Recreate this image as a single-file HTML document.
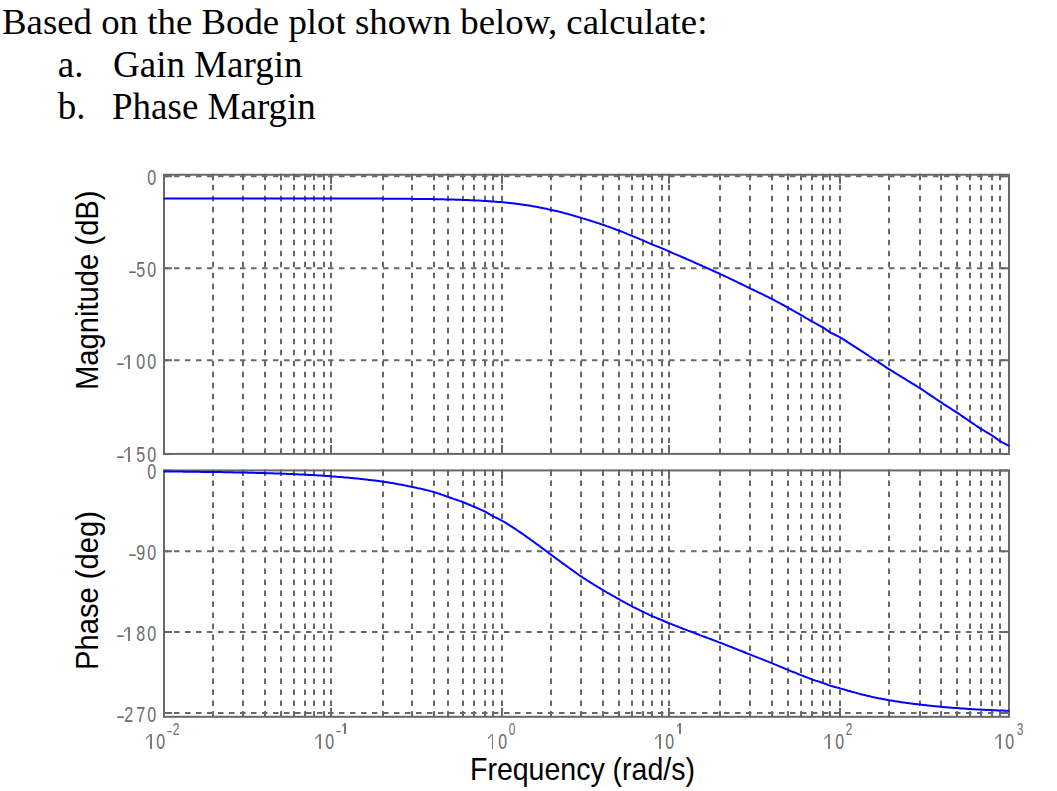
<!DOCTYPE html>
<html><head><meta charset="utf-8"><style>
html,body{margin:0;padding:0;background:#fff;width:1057px;height:791px;overflow:hidden;position:relative}
.t{position:absolute;font-family:"Liberation Serif",serif;font-size:37px;color:#000;white-space:nowrap;line-height:1}
.yl{position:absolute;right:899.5px;font-family:"Liberation Sans",sans-serif;font-size:20.6px;line-height:20.6px;color:#6b6b6b;white-space:nowrap;text-align:right}
.yl span,.xl span{display:inline-block;transform:scale(.78,1.07)}
.xs span{display:inline-block;transform:scale(.8,1.1)}
.yl span.h{transform:translate(1px,1.1px) scaleX(1.3)}
span.one{position:relative;color:transparent;transform:none!important}
span.one::before,span.one::after{content:"";position:absolute;background:#7d7d7d}
.xl span.one::before{left:6.2px;width:1.6px;top:1.7px;height:14.6px}
.xl span.one::after{left:2.1px;width:4.1px;top:1.7px;height:5.6px;clip-path:polygon(100% 0,100% 32%,0 100%,0 68%)}
.yl span.one::before{left:4.95px;width:1.6px;top:2.9px;height:14.6px}
.yl span.one::after{left:0.85px;width:4.1px;top:2.9px;height:5.6px;clip-path:polygon(100% 0,100% 32%,0 100%,0 68%)}
.xs span.one::before{left:3.8px;width:1.7px;top:0.6px;height:10.9px}
.xs span.one::after{left:1.4px;width:2.5px;top:0.6px;height:4px;clip-path:polygon(100% 0,100% 40%,0 100%,0 60%)}
.xs span.h{transform:translateY(1px) scaleX(1.2)}
.xl{position:absolute;font-family:"Liberation Sans",sans-serif;font-size:20.4px;line-height:20.4px;color:#6b6b6b;white-space:nowrap}
.xs{position:absolute;font-family:"Liberation Sans",sans-serif;font-size:14.9px;line-height:14.9px;color:#6b6b6b;white-space:nowrap}
.lab{position:absolute;font-family:"Liberation Sans",sans-serif;color:#000;white-space:nowrap;line-height:1}
</style></head><body>
<div class="t" style="left:2px;top:3.7px;font-size:36.85px">Based on the Bode plot shown below, calculate:</div>
<div class="t" style="left:57.8px;top:45.7px">a.</div>
<div class="t" style="left:113px;top:45.5px">Gain Margin</div>
<div class="t" style="left:57.8px;top:87.7px">b.</div>
<div class="t" style="left:112px;top:87.7px">Phase Margin</div>
<svg width="1057" height="791" style="position:absolute;left:0;top:0">
<style>.g{stroke:#686868;stroke-width:2;stroke-dasharray:5.5 5.5;fill:none}</style>
<line x1="213" y1="173.75" x2="213" y2="453.9" class="g"/><line x1="213" y1="469.45" x2="213" y2="716.8" class="g"/><line x1="243" y1="173.75" x2="243" y2="453.9" class="g"/><line x1="243" y1="469.45" x2="243" y2="716.8" class="g"/><line x1="265" y1="173.75" x2="265" y2="453.9" class="g"/><line x1="265" y1="469.45" x2="265" y2="716.8" class="g"/><line x1="281" y1="173.75" x2="281" y2="453.9" class="g"/><line x1="281" y1="469.45" x2="281" y2="716.8" class="g"/><line x1="294" y1="173.75" x2="294" y2="453.9" class="g"/><line x1="294" y1="469.45" x2="294" y2="716.8" class="g"/><line x1="305" y1="173.75" x2="305" y2="453.9" class="g"/><line x1="305" y1="469.45" x2="305" y2="716.8" class="g"/><line x1="314" y1="173.75" x2="314" y2="453.9" class="g"/><line x1="314" y1="469.45" x2="314" y2="716.8" class="g"/><line x1="324" y1="173.75" x2="324" y2="453.9" class="g"/><line x1="324" y1="469.45" x2="324" y2="716.8" class="g"/><line x1="331" y1="173.75" x2="331" y2="453.9" class="g"/><line x1="331" y1="469.45" x2="331" y2="716.8" class="g"/><line x1="383" y1="173.75" x2="383" y2="453.9" class="g"/><line x1="383" y1="469.45" x2="383" y2="716.8" class="g"/><line x1="412" y1="173.75" x2="412" y2="453.9" class="g"/><line x1="412" y1="469.45" x2="412" y2="716.8" class="g"/><line x1="434" y1="173.75" x2="434" y2="453.9" class="g"/><line x1="434" y1="469.45" x2="434" y2="716.8" class="g"/><line x1="448" y1="173.75" x2="448" y2="453.9" class="g"/><line x1="448" y1="469.45" x2="448" y2="716.8" class="g"/><line x1="463" y1="173.75" x2="463" y2="453.9" class="g"/><line x1="463" y1="469.45" x2="463" y2="716.8" class="g"/><line x1="474" y1="173.75" x2="474" y2="453.9" class="g"/><line x1="474" y1="469.45" x2="474" y2="716.8" class="g"/><line x1="485" y1="173.75" x2="485" y2="453.9" class="g"/><line x1="485" y1="469.45" x2="485" y2="716.8" class="g"/><line x1="493" y1="173.75" x2="493" y2="453.9" class="g"/><line x1="493" y1="469.45" x2="493" y2="716.8" class="g"/><line x1="502" y1="173.75" x2="502" y2="453.9" class="g"/><line x1="502" y1="469.45" x2="502" y2="716.8" class="g"/><line x1="551" y1="173.75" x2="551" y2="453.9" class="g"/><line x1="551" y1="469.45" x2="551" y2="716.8" class="g"/><line x1="581" y1="173.75" x2="581" y2="453.9" class="g"/><line x1="581" y1="469.45" x2="581" y2="716.8" class="g"/><line x1="603" y1="173.75" x2="603" y2="453.9" class="g"/><line x1="603" y1="469.45" x2="603" y2="716.8" class="g"/><line x1="619" y1="173.75" x2="619" y2="453.9" class="g"/><line x1="619" y1="469.45" x2="619" y2="716.8" class="g"/><line x1="632" y1="173.75" x2="632" y2="453.9" class="g"/><line x1="632" y1="469.45" x2="632" y2="716.8" class="g"/><line x1="643" y1="173.75" x2="643" y2="453.9" class="g"/><line x1="643" y1="469.45" x2="643" y2="716.8" class="g"/><line x1="652" y1="173.75" x2="652" y2="453.9" class="g"/><line x1="652" y1="469.45" x2="652" y2="716.8" class="g"/><line x1="662" y1="173.75" x2="662" y2="453.9" class="g"/><line x1="662" y1="469.45" x2="662" y2="716.8" class="g"/><line x1="669" y1="173.75" x2="669" y2="453.9" class="g"/><line x1="669" y1="469.45" x2="669" y2="716.8" class="g"/><line x1="720" y1="173.75" x2="720" y2="453.9" class="g"/><line x1="720" y1="469.45" x2="720" y2="716.8" class="g"/><line x1="750" y1="173.75" x2="750" y2="453.9" class="g"/><line x1="750" y1="469.45" x2="750" y2="716.8" class="g"/><line x1="772" y1="173.75" x2="772" y2="453.9" class="g"/><line x1="772" y1="469.45" x2="772" y2="716.8" class="g"/><line x1="788" y1="173.75" x2="788" y2="453.9" class="g"/><line x1="788" y1="469.45" x2="788" y2="716.8" class="g"/><line x1="801" y1="173.75" x2="801" y2="453.9" class="g"/><line x1="801" y1="469.45" x2="801" y2="716.8" class="g"/><line x1="812" y1="173.75" x2="812" y2="453.9" class="g"/><line x1="812" y1="469.45" x2="812" y2="716.8" class="g"/><line x1="823" y1="173.75" x2="823" y2="453.9" class="g"/><line x1="823" y1="469.45" x2="823" y2="716.8" class="g"/><line x1="830" y1="173.75" x2="830" y2="453.9" class="g"/><line x1="830" y1="469.45" x2="830" y2="716.8" class="g"/><line x1="840" y1="173.75" x2="840" y2="453.9" class="g"/><line x1="840" y1="469.45" x2="840" y2="716.8" class="g"/><line x1="889" y1="173.75" x2="889" y2="453.9" class="g"/><line x1="889" y1="469.45" x2="889" y2="716.8" class="g"/><line x1="920" y1="173.75" x2="920" y2="453.9" class="g"/><line x1="920" y1="469.45" x2="920" y2="716.8" class="g"/><line x1="941" y1="173.75" x2="941" y2="453.9" class="g"/><line x1="941" y1="469.45" x2="941" y2="716.8" class="g"/><line x1="957" y1="173.75" x2="957" y2="453.9" class="g"/><line x1="957" y1="469.45" x2="957" y2="716.8" class="g"/><line x1="970" y1="173.75" x2="970" y2="453.9" class="g"/><line x1="970" y1="469.45" x2="970" y2="716.8" class="g"/><line x1="981" y1="173.75" x2="981" y2="453.9" class="g"/><line x1="981" y1="469.45" x2="981" y2="716.8" class="g"/><line x1="992" y1="173.75" x2="992" y2="453.9" class="g"/><line x1="992" y1="469.45" x2="992" y2="716.8" class="g"/><line x1="1000" y1="173.75" x2="1000" y2="453.9" class="g"/><line x1="1000" y1="469.45" x2="1000" y2="716.8" class="g"/><line x1="163" y1="176.3" x2="1009" y2="176.3" class="g"/><line x1="163" y1="268.3" x2="1009" y2="268.3" class="g"/><line x1="163" y1="360.2" x2="1009" y2="360.2" class="g"/><line x1="163" y1="551.3" x2="1009" y2="551.3" class="g"/><line x1="163" y1="632.1" x2="1009" y2="632.1" class="g"/><line x1="163" y1="713.0" x2="1009" y2="713.0" class="g"/>
<path d="M164 174.75v9M164 453.9v-9M164 470.45v9M164 716.8v-9M213 174.75v5.5M213 453.9v-5.5M213 470.45v5.5M213 716.8v-5.5M243 174.75v5.5M243 453.9v-5.5M243 470.45v5.5M243 716.8v-5.5M265 174.75v5.5M265 453.9v-5.5M265 470.45v5.5M265 716.8v-5.5M281 174.75v5.5M281 453.9v-5.5M281 470.45v5.5M281 716.8v-5.5M294 174.75v5.5M294 453.9v-5.5M294 470.45v5.5M294 716.8v-5.5M305 174.75v5.5M305 453.9v-5.5M305 470.45v5.5M305 716.8v-5.5M314 174.75v5.5M314 453.9v-5.5M314 470.45v5.5M314 716.8v-5.5M324 174.75v5.5M324 453.9v-5.5M324 470.45v5.5M324 716.8v-5.5M331 174.75v9M331 453.9v-9M331 470.45v9M331 716.8v-9M383 174.75v5.5M383 453.9v-5.5M383 470.45v5.5M383 716.8v-5.5M412 174.75v5.5M412 453.9v-5.5M412 470.45v5.5M412 716.8v-5.5M434 174.75v5.5M434 453.9v-5.5M434 470.45v5.5M434 716.8v-5.5M448 174.75v5.5M448 453.9v-5.5M448 470.45v5.5M448 716.8v-5.5M463 174.75v5.5M463 453.9v-5.5M463 470.45v5.5M463 716.8v-5.5M474 174.75v5.5M474 453.9v-5.5M474 470.45v5.5M474 716.8v-5.5M485 174.75v5.5M485 453.9v-5.5M485 470.45v5.5M485 716.8v-5.5M493 174.75v5.5M493 453.9v-5.5M493 470.45v5.5M493 716.8v-5.5M502 174.75v9M502 453.9v-9M502 470.45v9M502 716.8v-9M551 174.75v5.5M551 453.9v-5.5M551 470.45v5.5M551 716.8v-5.5M581 174.75v5.5M581 453.9v-5.5M581 470.45v5.5M581 716.8v-5.5M603 174.75v5.5M603 453.9v-5.5M603 470.45v5.5M603 716.8v-5.5M619 174.75v5.5M619 453.9v-5.5M619 470.45v5.5M619 716.8v-5.5M632 174.75v5.5M632 453.9v-5.5M632 470.45v5.5M632 716.8v-5.5M643 174.75v5.5M643 453.9v-5.5M643 470.45v5.5M643 716.8v-5.5M652 174.75v5.5M652 453.9v-5.5M652 470.45v5.5M652 716.8v-5.5M662 174.75v5.5M662 453.9v-5.5M662 470.45v5.5M662 716.8v-5.5M669 174.75v9M669 453.9v-9M669 470.45v9M669 716.8v-9M720 174.75v5.5M720 453.9v-5.5M720 470.45v5.5M720 716.8v-5.5M750 174.75v5.5M750 453.9v-5.5M750 470.45v5.5M750 716.8v-5.5M772 174.75v5.5M772 453.9v-5.5M772 470.45v5.5M772 716.8v-5.5M788 174.75v5.5M788 453.9v-5.5M788 470.45v5.5M788 716.8v-5.5M801 174.75v5.5M801 453.9v-5.5M801 470.45v5.5M801 716.8v-5.5M812 174.75v5.5M812 453.9v-5.5M812 470.45v5.5M812 716.8v-5.5M823 174.75v5.5M823 453.9v-5.5M823 470.45v5.5M823 716.8v-5.5M830 174.75v5.5M830 453.9v-5.5M830 470.45v5.5M830 716.8v-5.5M840 174.75v9M840 453.9v-9M840 470.45v9M840 716.8v-9M889 174.75v5.5M889 453.9v-5.5M889 470.45v5.5M889 716.8v-5.5M920 174.75v5.5M920 453.9v-5.5M920 470.45v5.5M920 716.8v-5.5M941 174.75v5.5M941 453.9v-5.5M941 470.45v5.5M941 716.8v-5.5M957 174.75v5.5M957 453.9v-5.5M957 470.45v5.5M957 716.8v-5.5M970 174.75v5.5M970 453.9v-5.5M970 470.45v5.5M970 716.8v-5.5M981 174.75v5.5M981 453.9v-5.5M981 470.45v5.5M981 716.8v-5.5M992 174.75v5.5M992 453.9v-5.5M992 470.45v5.5M992 716.8v-5.5M1000 174.75v5.5M1000 453.9v-5.5M1000 470.45v5.5M1000 716.8v-5.5M1009 174.75v9M1009 453.9v-9M1009 470.45v9M1009 716.8v-9M164 176.3h8M1009 176.3h-8M164 268.3h8M1009 268.3h-8M164 360.2h8M1009 360.2h-8M164 453.9h8M1009 453.9h-8M164 470.4h8M1009 470.4h-8M164 551.3h8M1009 551.3h-8M164 632.1h8M1009 632.1h-8M164 713.0h8M1009 713.0h-8" stroke="#686868" stroke-width="2" fill="none"/>
<rect x="164" y="174.75" width="845" height="279.15" fill="none" stroke="#686868" stroke-width="2"/>
<rect x="164" y="470.45" width="845" height="246.35" fill="none" stroke="#686868" stroke-width="2"/>
<polyline points="163.7,198.5 164.9,198.5 166.1,198.5 167.2,198.5 168.4,198.5 169.6,198.5 170.8,198.5 172.0,198.5 173.1,198.5 174.3,198.5 175.5,198.5 176.7,198.5 177.8,198.5 179.0,198.5 180.2,198.5 181.4,198.5 182.6,198.5 183.7,198.5 184.9,198.5 186.1,198.5 187.3,198.5 188.5,198.5 189.6,198.5 190.8,198.5 192.0,198.5 193.2,198.5 194.3,198.5 195.5,198.5 196.7,198.5 197.9,198.5 199.1,198.5 200.2,198.5 201.4,198.5 202.6,198.5 203.8,198.5 205.0,198.5 206.1,198.5 207.3,198.5 208.5,198.5 209.7,198.5 210.8,198.5 212.0,198.5 213.2,198.5 214.4,198.5 215.6,198.5 216.8,198.5 218.0,198.5 219.2,198.5 220.4,198.5 221.6,198.5 222.8,198.5 224.0,198.5 225.2,198.5 226.4,198.5 227.6,198.5 228.8,198.5 230.0,198.5 231.2,198.5 232.4,198.5 233.6,198.5 234.8,198.5 236.0,198.5 237.2,198.5 238.4,198.5 239.7,198.5 240.9,198.5 242.1,198.5 243.3,198.5 244.5,198.5 245.8,198.5 247.0,198.5 248.2,198.5 249.5,198.5 250.7,198.5 252.0,198.5 253.2,198.5 254.5,198.5 255.7,198.5 256.9,198.5 258.2,198.5 259.4,198.5 260.7,198.5 261.9,198.5 263.1,198.5 264.4,198.5 265.6,198.5 266.9,198.5 268.1,198.5 269.3,198.5 270.6,198.5 271.8,198.5 273.0,198.5 274.3,198.5 275.5,198.5 276.7,198.5 278.0,198.5 279.2,198.5 280.4,198.5 281.6,198.5 282.8,198.5 284.0,198.5 285.1,198.5 286.3,198.5 287.5,198.5 288.6,198.5 289.8,198.5 291.0,198.5 292.1,198.5 293.3,198.5 294.4,198.5 295.6,198.5 296.8,198.5 297.9,198.5 299.1,198.5 300.3,198.5 301.4,198.5 302.6,198.5 303.8,198.5 304.9,198.5 306.1,198.5 307.3,198.5 308.4,198.5 309.6,198.5 310.7,198.5 311.9,198.5 313.0,198.5 314.2,198.5 315.4,198.5 316.7,198.5 318.0,198.5 319.2,198.5 320.5,198.5 321.7,198.5 323.0,198.5 324.2,198.5 325.4,198.5 326.5,198.5 327.7,198.5 328.9,198.5 330.1,198.5 331.2,198.5 332.5,198.5 333.7,198.5 334.9,198.5 336.1,198.5 337.4,198.5 338.6,198.5 339.8,198.5 341.1,198.5 342.3,198.5 343.5,198.5 344.7,198.5 346.0,198.5 347.2,198.5 348.4,198.5 349.6,198.5 350.9,198.6 352.1,198.6 353.3,198.6 354.5,198.6 355.8,198.6 357.0,198.6 358.2,198.6 359.4,198.6 360.7,198.6 361.9,198.6 363.1,198.6 364.4,198.6 365.6,198.6 366.8,198.6 368.0,198.6 369.3,198.6 370.5,198.6 371.7,198.6 372.9,198.6 374.2,198.6 375.4,198.6 376.6,198.6 377.8,198.6 379.1,198.6 380.3,198.6 381.5,198.6 382.7,198.6 383.9,198.7 385.1,198.7 386.3,198.7 387.5,198.7 388.7,198.7 389.9,198.7 391.1,198.7 392.3,198.7 393.4,198.7 394.6,198.7 395.8,198.7 397.0,198.7 398.2,198.7 399.4,198.7 400.6,198.8 401.8,198.8 403.0,198.8 404.2,198.8 405.4,198.8 406.5,198.8 407.7,198.8 408.9,198.8 410.1,198.8 411.3,198.8 412.5,198.9 413.8,198.9 415.1,198.9 416.3,198.9 417.6,198.9 418.9,198.9 420.1,198.9 421.4,199.0 422.7,199.0 423.9,199.0 425.2,199.0 426.4,199.0 427.7,199.0 429.0,199.1 430.2,199.1 431.5,199.1 432.8,199.1 434.0,199.1 435.1,199.2 436.2,199.2 437.2,199.2 438.3,199.2 439.4,199.2 440.5,199.3 441.5,199.3 442.6,199.3 443.7,199.3 444.7,199.4 445.8,199.4 446.9,199.4 447.9,199.5 449.1,199.5 450.4,199.5 451.7,199.6 453.0,199.6 454.3,199.6 455.6,199.7 456.9,199.7 458.2,199.8 459.5,199.8 460.8,199.8 462.1,199.9 463.4,199.9 464.6,200.0 465.9,200.0 467.1,200.1 468.3,200.1 469.6,200.2 470.8,200.2 472.0,200.3 473.2,200.3 474.5,200.4 475.8,200.5 477.1,200.5 478.4,200.6 479.8,200.6 481.1,200.7 482.4,200.8 483.7,200.9 485.0,200.9 486.1,201.0 487.2,201.1 488.2,201.2 489.3,201.2 490.4,201.3 491.4,201.4 492.5,201.5 493.8,201.6 495.3,201.7 496.7,201.8 498.1,201.9 499.5,202.0 500.9,202.1 502.3,202.2 503.4,202.3 504.6,202.4 505.8,202.6 507.0,202.7 508.1,202.8 509.3,202.9 510.5,203.0 511.7,203.2 512.8,203.3 514.0,203.5 515.2,203.6 516.4,203.7 517.5,203.9 518.7,204.0 519.9,204.2 521.1,204.4 522.2,204.5 523.4,204.7 524.6,204.9 525.7,205.0 526.9,205.2 528.1,205.4 529.3,205.6 530.4,205.8 531.6,206.0 532.8,206.2 534.0,206.4 535.1,206.6 536.3,206.8 537.5,207.0 538.7,207.2 539.8,207.5 541.0,207.7 542.2,207.9 543.4,208.2 544.5,208.4 545.7,208.6 546.9,208.9 548.0,209.2 549.2,209.4 550.4,209.7 551.6,209.9 552.8,210.2 554.0,210.5 555.2,210.8 556.4,211.1 557.6,211.3 558.8,211.6 560.0,211.9 561.2,212.2 562.4,212.5 563.6,212.9 564.8,213.2 566.0,213.5 567.2,213.8 568.4,214.1 569.6,214.5 570.8,214.8 572.0,215.1 573.1,215.5 574.3,215.8 575.5,216.2 576.7,216.5 577.9,216.9 579.1,217.3 580.3,217.6 581.6,218.0 582.8,218.4 584.1,218.7 585.4,219.1 586.6,219.5 587.9,219.9 589.2,220.3 590.4,220.7 591.7,221.1 593.0,221.5 594.2,221.9 595.5,222.3 596.8,222.7 598.0,223.1 599.3,223.5 600.6,224.0 601.8,224.4 603.1,224.8 604.3,225.2 605.5,225.7 606.7,226.1 608.0,226.5 609.2,227.0 610.4,227.4 611.6,227.9 612.8,228.3 614.0,228.7 615.3,229.2 616.5,229.7 617.7,230.1 618.9,230.6 620.1,231.0 621.2,231.5 622.4,231.9 623.6,232.4 624.7,232.9 625.9,233.3 627.0,233.8 628.2,234.3 629.3,234.8 630.5,235.2 631.7,235.7 632.8,236.2 634.0,236.7 635.2,237.2 636.4,237.6 637.6,238.1 638.8,238.6 639.9,239.1 641.1,239.6 642.3,240.1 643.5,240.6 644.6,241.1 645.8,241.6 646.9,242.1 648.1,242.6 649.2,243.1 650.4,243.6 651.5,244.1 652.7,244.6 654.0,245.1 655.2,245.6 656.5,246.1 657.8,246.6 659.1,247.1 660.3,247.6 661.6,248.1 662.8,248.6 663.9,249.1 665.1,249.7 666.2,250.2 667.4,250.7 668.5,251.2 669.7,251.7 671.0,252.2 672.2,252.8 673.4,253.3 674.6,253.8 675.8,254.3 677.0,254.9 678.3,255.4 679.5,255.9 680.7,256.4 681.9,257.0 683.1,257.5 684.4,258.0 685.6,258.5 686.8,259.1 688.0,259.6 689.2,260.1 690.5,260.7 691.7,261.2 692.9,261.7 694.1,262.3 695.3,262.8 696.5,263.3 697.8,263.9 699.0,264.4 700.2,265.0 701.4,265.5 702.6,266.1 703.9,266.6 705.1,267.1 706.3,267.7 707.5,268.2 708.7,268.8 710.0,269.3 711.2,269.9 712.4,270.4 713.6,271.0 714.8,271.5 716.1,272.1 717.3,272.7 718.5,273.2 719.7,273.8 720.9,274.3 722.1,274.9 723.3,275.4 724.5,276.0 725.7,276.6 726.9,277.1 728.1,277.7 729.3,278.3 730.5,278.9 731.7,279.4 732.9,280.0 734.1,280.6 735.3,281.1 736.5,281.7 737.7,282.3 738.9,282.9 740.1,283.5 741.3,284.0 742.5,284.6 743.7,285.2 744.9,285.8 746.1,286.4 747.3,287.0 748.5,287.6 749.7,288.2 750.9,288.8 752.2,289.4 753.5,290.0 754.7,290.6 756.0,291.2 757.3,291.8 758.5,292.4 759.8,293.0 761.1,293.6 762.3,294.2 763.6,294.9 764.9,295.5 766.1,296.1 767.4,296.7 768.7,297.4 769.9,298.0 771.2,298.6 772.4,299.2 773.6,299.9 774.8,300.5 776.0,301.2 777.2,301.8 778.4,302.4 779.6,303.1 780.8,303.7 782.0,304.4 783.2,305.0 784.4,305.7 785.6,306.3 786.8,307.0 788.0,307.7 789.1,308.3 790.3,309.0 791.5,309.6 792.7,310.3 793.9,311.0 795.1,311.7 796.2,312.3 797.4,313.0 798.6,313.7 799.8,314.4 801.0,315.1 802.2,315.7 803.4,316.4 804.5,317.1 805.7,317.8 806.9,318.5 808.1,319.2 809.3,319.9 810.5,320.6 811.7,321.3 812.9,322.0 814.2,322.7 815.5,323.4 816.9,324.1 818.2,324.8 819.5,325.5 820.8,326.3 822.1,327.0 823.4,327.7 824.4,328.4 825.5,329.1 826.5,329.9 827.6,330.6 828.6,331.3 829.7,332.0 830.8,332.8 832.3,333.5 833.8,334.2 835.3,335.0 836.8,335.7 838.3,336.4 839.8,337.2 841.0,337.9 842.2,338.7 843.4,339.4 844.5,340.1 845.7,340.9 846.9,341.6 848.0,342.4 849.2,343.1 850.4,343.9 851.5,344.6 852.7,345.4 853.9,346.1 855.0,346.9 856.2,347.6 857.4,348.4 858.5,349.2 859.7,349.9 860.9,350.7 862.0,351.4 863.2,352.2 864.4,353.0 865.5,353.7 866.7,354.5 867.9,355.2 869.0,356.0 870.2,356.8 871.4,357.5 872.5,358.3 873.7,359.1 874.9,359.8 876.0,360.6 877.2,361.4 878.4,362.1 879.5,362.9 880.7,363.7 881.9,364.5 883.0,365.2 884.2,366.0 885.4,366.8 886.5,367.6 887.7,368.3 888.9,369.1 890.1,369.9 891.4,370.7 892.7,371.4 893.9,372.2 895.2,373.0 896.5,373.8 897.7,374.5 899.0,375.3 900.3,376.1 901.6,376.9 902.8,377.6 904.1,378.4 905.4,379.2 906.6,380.0 907.9,380.8 909.2,381.5 910.5,382.3 911.7,383.1 913.0,383.9 914.3,384.7 915.5,385.5 916.8,386.2 918.1,387.0 919.4,387.8 920.6,388.6 921.8,389.4 922.9,390.1 924.1,390.9 925.3,391.7 926.4,392.5 927.6,393.3 928.8,394.1 929.9,394.8 931.1,395.6 932.2,396.4 933.4,397.2 934.6,398.0 935.7,398.8 936.9,399.6 938.0,400.3 939.2,401.1 940.4,401.9 941.6,402.7 942.8,403.5 944.0,404.3 945.3,405.1 946.5,405.8 947.7,406.6 948.9,407.4 950.2,408.2 951.4,409.0 952.6,409.8 953.8,410.6 955.1,411.3 956.3,412.1 957.5,412.9 958.6,413.7 959.8,414.5 960.9,415.3 962.1,416.1 963.2,416.9 964.4,417.6 965.5,418.4 966.7,419.2 967.8,420.0 969.0,420.8 970.1,421.6 971.3,422.4 972.4,423.2 973.6,423.9 974.8,424.7 975.9,425.5 977.1,426.3 978.3,427.1 979.4,427.9 980.6,428.7 981.9,429.5 983.2,430.2 984.6,431.0 985.9,431.8 987.3,432.6 988.6,433.4 989.9,434.2 991.3,435.0 992.5,435.8 993.6,436.6 994.7,437.3 995.8,438.1 996.9,438.9 998.0,439.7 999.1,440.5 1000.4,441.3 1001.8,442.1 1003.2,442.9 1004.7,443.7 1006.1,444.4 1007.6,445.2 1009.0,446.0" fill="none" stroke="#0000ff" stroke-width="2"/>
<polyline points="163.7,471.5 164.9,471.5 166.1,471.5 167.2,471.5 168.4,471.5 169.6,471.5 170.8,471.5 172.0,471.5 173.1,471.6 174.3,471.6 175.5,471.6 176.7,471.6 177.8,471.6 179.0,471.6 180.2,471.6 181.4,471.6 182.6,471.6 183.7,471.7 184.9,471.7 186.1,471.7 187.3,471.7 188.5,471.7 189.6,471.7 190.8,471.7 192.0,471.7 193.2,471.8 194.3,471.8 195.5,471.8 196.7,471.8 197.9,471.8 199.1,471.8 200.2,471.8 201.4,471.9 202.6,471.9 203.8,471.9 205.0,471.9 206.1,471.9 207.3,471.9 208.5,471.9 209.7,472.0 210.8,472.0 212.0,472.0 213.2,472.0 214.4,472.0 215.6,472.1 216.8,472.1 218.0,472.1 219.2,472.1 220.4,472.1 221.6,472.1 222.8,472.2 224.0,472.2 225.2,472.2 226.4,472.2 227.6,472.3 228.8,472.3 230.0,472.3 231.2,472.3 232.4,472.3 233.6,472.4 234.8,472.4 236.0,472.4 237.2,472.4 238.4,472.5 239.7,472.5 240.9,472.5 242.1,472.5 243.3,472.6 244.5,472.6 245.8,472.6 247.0,472.6 248.2,472.7 249.5,472.7 250.7,472.7 252.0,472.8 253.2,472.8 254.5,472.8 255.7,472.9 256.9,472.9 258.2,472.9 259.4,472.9 260.7,473.0 261.9,473.0 263.1,473.0 264.4,473.1 265.6,473.1 266.9,473.2 268.1,473.2 269.3,473.2 270.6,473.3 271.8,473.3 273.0,473.3 274.3,473.4 275.5,473.4 276.7,473.5 278.0,473.5 279.2,473.5 280.4,473.6 281.6,473.6 282.8,473.7 284.0,473.7 285.1,473.8 286.3,473.8 287.5,473.9 288.6,473.9 289.8,474.0 291.0,474.0 292.1,474.1 293.3,474.1 294.4,474.2 295.6,474.2 296.8,474.3 297.9,474.3 299.1,474.4 300.3,474.4 301.4,474.5 302.6,474.6 303.8,474.6 304.9,474.7 306.1,474.7 307.3,474.8 308.4,474.9 309.6,474.9 310.7,475.0 311.9,475.1 313.0,475.1 314.2,475.2 315.4,475.3 316.7,475.3 318.0,475.4 319.2,475.5 320.5,475.6 321.7,475.6 323.0,475.7 324.2,475.8 325.4,475.9 326.5,476.0 327.7,476.1 328.9,476.1 330.1,476.2 331.2,476.3 332.5,476.4 333.7,476.5 334.9,476.6 336.1,476.7 337.4,476.8 338.6,476.9 339.8,477.0 341.1,477.1 342.3,477.2 343.5,477.3 344.7,477.4 346.0,477.5 347.2,477.6 348.4,477.7 349.6,477.8 350.9,477.9 352.1,478.0 353.3,478.2 354.5,478.3 355.8,478.4 357.0,478.5 358.2,478.6 359.4,478.8 360.7,478.9 361.9,479.0 363.1,479.2 364.4,479.3 365.6,479.4 366.8,479.6 368.0,479.7 369.3,479.9 370.5,480.0 371.7,480.2 372.9,480.3 374.2,480.5 375.4,480.6 376.6,480.8 377.8,481.0 379.1,481.1 380.3,481.3 381.5,481.5 382.7,481.6 383.9,481.8 385.1,482.0 386.3,482.2 387.5,482.3 388.7,482.5 389.9,482.7 391.1,482.9 392.3,483.1 393.4,483.3 394.6,483.5 395.8,483.7 397.0,483.9 398.2,484.2 399.4,484.4 400.6,484.6 401.8,484.8 403.0,485.0 404.2,485.3 405.4,485.5 406.5,485.7 407.7,486.0 408.9,486.2 410.1,486.5 411.3,486.7 412.5,487.0 413.8,487.3 415.1,487.5 416.3,487.8 417.6,488.1 418.9,488.4 420.1,488.6 421.4,488.9 422.7,489.2 423.9,489.5 425.2,489.8 426.4,490.1 427.7,490.4 429.0,490.7 430.2,491.1 431.5,491.4 432.8,491.7 434.0,492.1 435.1,492.4 436.2,492.8 437.2,493.1 438.3,493.5 439.4,493.8 440.5,494.2 441.5,494.6 442.6,494.9 443.7,495.3 444.7,495.7 445.8,496.1 446.9,496.5 447.9,496.9 449.1,497.3 450.4,497.8 451.7,498.2 453.0,498.6 454.3,499.1 455.6,499.5 456.9,500.0 458.2,500.4 459.5,500.9 460.8,501.3 462.1,501.8 463.4,502.3 464.6,502.8 465.9,503.3 467.1,503.8 468.3,504.3 469.6,504.8 470.8,505.3 472.0,505.9 473.2,506.4 474.5,507.0 475.8,507.5 477.1,508.1 478.4,508.6 479.8,509.2 481.1,509.8 482.4,510.4 483.7,511.0 485.0,511.6 486.1,512.2 487.2,512.8 488.2,513.4 489.3,514.1 490.4,514.7 491.4,515.3 492.5,516.0 493.8,516.7 495.3,517.3 496.7,518.0 498.1,518.7 499.5,519.4 500.9,520.1 502.3,520.8 503.4,521.5 504.6,522.2 505.8,522.9 507.0,523.6 508.1,524.4 509.3,525.1 510.5,525.9 511.7,526.6 512.8,527.4 514.0,528.2 515.2,528.9 516.4,529.7 517.5,530.5 518.7,531.3 519.9,532.1 521.1,532.9 522.2,533.7 523.4,534.5 524.6,535.3 525.7,536.2 526.9,537.0 528.1,537.8 529.3,538.6 530.4,539.5 531.6,540.3 532.8,541.2 534.0,542.0 535.1,542.9 536.3,543.8 537.5,544.6 538.7,545.5 539.8,546.3 541.0,547.2 542.2,548.1 543.4,549.0 544.5,549.8 545.7,550.7 546.9,551.6 548.0,552.5 549.2,553.4 550.4,554.2 551.6,555.1 552.8,556.0 554.0,556.9 555.2,557.8 556.4,558.7 557.6,559.5 558.8,560.4 560.0,561.3 561.2,562.2 562.4,563.1 563.6,563.9 564.8,564.8 566.0,565.7 567.2,566.5 568.4,567.4 569.6,568.3 570.8,569.1 572.0,570.0 573.1,570.8 574.3,571.7 575.5,572.5 576.7,573.4 577.9,574.2 579.1,575.1 580.3,575.9 581.6,576.7 582.8,577.6 584.1,578.4 585.4,579.2 586.6,580.0 587.9,580.8 589.2,581.6 590.4,582.4 591.7,583.2 593.0,584.0 594.2,584.8 595.5,585.5 596.8,586.3 598.0,587.1 599.3,587.8 600.6,588.6 601.8,589.3 603.1,590.1 604.3,590.8 605.5,591.5 606.7,592.3 608.0,593.0 609.2,593.7 610.4,594.4 611.6,595.1 612.8,595.8 614.0,596.5 615.3,597.2 616.5,597.9 617.7,598.5 618.9,599.2 620.1,599.9 621.2,600.5 622.4,601.2 623.6,601.8 624.7,602.5 625.9,603.1 627.0,603.7 628.2,604.3 629.3,605.0 630.5,605.6 631.7,606.2 632.8,606.8 634.0,607.4 635.2,608.0 636.4,608.6 637.6,609.2 638.8,609.7 639.9,610.3 641.1,610.9 642.3,611.5 643.5,612.0 644.6,612.6 645.8,613.1 646.9,613.7 648.1,614.2 649.2,614.8 650.4,615.3 651.5,615.8 652.7,616.4 654.0,616.9 655.2,617.4 656.5,617.9 657.8,618.5 659.1,619.0 660.3,619.5 661.6,620.0 662.8,620.5 663.9,621.0 665.1,621.5 666.2,622.0 667.4,622.5 668.5,623.0 669.7,623.5 671.0,623.9 672.2,624.4 673.4,624.9 674.6,625.4 675.8,625.9 677.0,626.3 678.3,626.8 679.5,627.3 680.7,627.8 681.9,628.2 683.1,628.7 684.4,629.2 685.6,629.6 686.8,630.1 688.0,630.6 689.2,631.0 690.5,631.5 691.7,631.9 692.9,632.4 694.1,632.9 695.3,633.3 696.5,633.8 697.8,634.2 699.0,634.7 700.2,635.2 701.4,635.6 702.6,636.1 703.9,636.5 705.1,637.0 706.3,637.5 707.5,637.9 708.7,638.4 710.0,638.8 711.2,639.3 712.4,639.7 713.6,640.2 714.8,640.7 716.1,641.1 717.3,641.6 718.5,642.1 719.7,642.5 720.9,643.0 722.1,643.4 723.3,643.9 724.5,644.4 725.7,644.8 726.9,645.3 728.1,645.8 729.3,646.3 730.5,646.7 731.7,647.2 732.9,647.7 734.1,648.1 735.3,648.6 736.5,649.1 737.7,649.6 738.9,650.1 740.1,650.5 741.3,651.0 742.5,651.5 743.7,652.0 744.9,652.5 746.1,653.0 747.3,653.4 748.5,653.9 749.7,654.4 750.9,654.9 752.2,655.4 753.5,655.9 754.7,656.4 756.0,656.9 757.3,657.4 758.5,657.9 759.8,658.4 761.1,658.9 762.3,659.4 763.6,659.9 764.9,660.4 766.1,660.9 767.4,661.4 768.7,661.9 769.9,662.4 771.2,662.9 772.4,663.4 773.6,663.9 774.8,664.4 776.0,664.9 777.2,665.4 778.4,665.9 779.6,666.4 780.8,666.8 782.0,667.3 783.2,667.8 784.4,668.3 785.6,668.8 786.8,669.3 788.0,669.8 789.1,670.3 790.3,670.8 791.5,671.3 792.7,671.8 793.9,672.2 795.1,672.7 796.2,673.2 797.4,673.7 798.6,674.2 799.8,674.6 801.0,675.1 802.2,675.6 803.4,676.0 804.5,676.5 805.7,677.0 806.9,677.4 808.1,677.9 809.3,678.3 810.5,678.8 811.7,679.2 812.9,679.7 814.2,680.1 815.5,680.6 816.9,681.0 818.2,681.4 819.5,681.8 820.8,682.3 822.1,682.7 823.4,683.1 824.4,683.5 825.5,683.9 826.5,684.3 827.6,684.7 828.6,685.1 829.7,685.5 830.8,685.9 832.3,686.3 833.8,686.7 835.3,687.1 836.8,687.5 838.3,687.8 839.8,688.2 841.0,688.6 842.2,688.9 843.4,689.3 844.5,689.6 845.7,690.0 846.9,690.3 848.0,690.7 849.2,691.0 850.4,691.3 851.5,691.7 852.7,692.0 853.9,692.3 855.0,692.6 856.2,692.9 857.4,693.3 858.5,693.6 859.7,693.9 860.9,694.2 862.0,694.5 863.2,694.7 864.4,695.0 865.5,695.3 866.7,695.6 867.9,695.9 869.0,696.1 870.2,696.4 871.4,696.7 872.5,696.9 873.7,697.2 874.9,697.4 876.0,697.7 877.2,697.9 878.4,698.2 879.5,698.4 880.7,698.6 881.9,698.9 883.0,699.1 884.2,699.3 885.4,699.6 886.5,699.8 887.7,700.0 888.9,700.2 890.1,700.4 891.4,700.6 892.7,700.8 893.9,701.0 895.2,701.2 896.5,701.4 897.7,701.6 899.0,701.8 900.3,702.0 901.6,702.2 902.8,702.4 904.1,702.5 905.4,702.7 906.6,702.9 907.9,703.0 909.2,703.2 910.5,703.4 911.7,703.5 913.0,703.7 914.3,703.9 915.5,704.0 916.8,704.2 918.1,704.3 919.4,704.5 920.6,704.6 921.8,704.7 922.9,704.9 924.1,705.0 925.3,705.2 926.4,705.3 927.6,705.4 928.8,705.6 929.9,705.7 931.1,705.8 932.2,705.9 933.4,706.1 934.6,706.2 935.7,706.3 936.9,706.4 938.0,706.5 939.2,706.6 940.4,706.8 941.6,706.9 942.8,707.0 944.0,707.1 945.3,707.2 946.5,707.3 947.7,707.4 948.9,707.5 950.2,707.6 951.4,707.7 952.6,707.8 953.8,707.9 955.1,708.0 956.3,708.0 957.5,708.1 958.6,708.2 959.8,708.3 960.9,708.4 962.1,708.5 963.2,708.6 964.4,708.6 965.5,708.7 966.7,708.8 967.8,708.9 969.0,708.9 970.1,709.0 971.3,709.1 972.4,709.2 973.6,709.2 974.8,709.3 975.9,709.4 977.1,709.4 978.3,709.5 979.4,709.6 980.6,709.6 981.9,709.7 983.2,709.8 984.6,709.8 985.9,709.9 987.3,709.9 988.6,710.0 989.9,710.1 991.3,710.1 992.5,710.2 993.6,710.2 994.7,710.3 995.8,710.3 996.9,710.4 998.0,710.4 999.1,710.5 1000.4,710.5 1001.8,710.6 1003.2,710.6 1004.7,710.7 1006.1,710.7 1007.6,710.8 1009.0,710.8" fill="none" stroke="#0000ff" stroke-width="2"/>
</svg>
<div class="yl" style="top:167.9px"><span>0</span></div><div class="yl" style="top:259.8px"><span class="h">-</span><span>5</span><span>0</span></div><div class="yl" style="top:351.8px"><span class="h">-</span><span class="one">1</span><span>0</span><span>0</span></div><div class="yl" style="top:444.5px"><span class="h">-</span><span class="one">1</span><span>5</span><span>0</span></div><div class="yl" style="top:462.2px"><span>0</span></div><div class="yl" style="top:543.1px"><span class="h">-</span><span>9</span><span>0</span></div><div class="yl" style="top:623.9px"><span class="h">-</span><span class="one">1</span><span>8</span><span>0</span></div><div class="yl" style="top:704.9px"><span class="h">-</span><span>2</span><span>7</span><span>0</span></div>
<div class="xl" style="left:143.9px;top:732.4px"><span class="one">1</span><span>0</span></div><div class="xs" style="left:166.6px;top:722.5px"><span class="h">-</span><span>2</span></div><div class="xl" style="left:313.0px;top:732.4px"><span class="one">1</span><span>0</span></div><div class="xs" style="left:335.7px;top:722.5px"><span class="h">-</span><span class="one">1</span></div><div class="xl" style="left:485.6px;top:732.4px"><span class="one">1</span><span>0</span></div><div class="xs" style="left:508.3px;top:722.5px"><span>0</span></div><div class="xl" style="left:652.9px;top:732.4px"><span class="one">1</span><span>0</span></div><div class="xs" style="left:675.6px;top:722.5px"><span class="one">1</span></div><div class="xl" style="left:822.3px;top:732.4px"><span class="one">1</span><span>0</span></div><div class="xs" style="left:845.0px;top:722.5px"><span>2</span></div><div class="xl" style="left:993.0px;top:732.4px"><span class="one">1</span><span>0</span></div><div class="xs" style="left:1015.7px;top:722.5px"><span>3</span></div>
<div class="lab" style="font-size:28.5px;left:470px;top:756px;transform-origin:0 26px;transform:scaleY(1.12)">Frequency (rad/s)</div>
<div class="lab" style="font-size:29.2px;left:73px;top:390px;transform-origin:0 0;transform:rotate(-90deg) scaleY(1.06)">Magnitude (dB)</div>
<div class="lab" style="font-size:29.2px;left:73px;top:670px;transform-origin:0 0;transform:rotate(-90deg) scaleY(1.06)">Phase (deg)</div>
</body></html>
